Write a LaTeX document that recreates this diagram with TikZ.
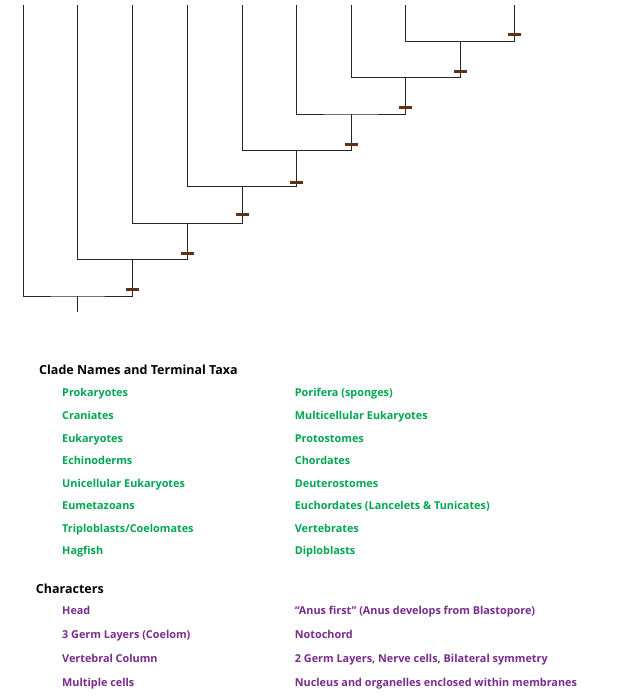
\documentclass[tikz,border=0pt]{standalone}
\usepackage{fontspec}
\setmainfont{Open Sans}
\definecolor{cladegreen}{RGB}{0,166,81}
\definecolor{charpurple}{RGB}{122,44,142}
\definecolor{tickbrown}{RGB}{92,50,22}
\begin{document}
\begin{tikzpicture}[x=1pt,y=-1pt,
  branch/.style={draw=black!85,line width=1pt},
  tickbar/.style={fill=tickbrown,draw=none,inner sep=0pt,minimum width=13pt,minimum height=3pt,rectangle},
  heading/.style={anchor=base west,inner sep=0pt,font=\bfseries\fontsize{12.5}{15}\selectfont,text=black},
  clade/.style={anchor=base west,inner sep=0pt,font=\bfseries\fontsize{10.85}{13}\selectfont,text=cladegreen},
  charac/.style={anchor=base west,inner sep=0pt,font=\bfseries\fontsize{10.85}{13}\selectfont,text=charpurple}]
\useasboundingbox[fill=white] (0,0) rectangle (624,696);
% leaves (top ends)
\coordinate (t0) at (23.3,5);
\coordinate (t1) at (77.7,5);
\coordinate (t2) at (132.7,5);
\coordinate (t3) at (187.7,5);
\coordinate (t4) at (242.3,5);
\coordinate (t5) at (296.7,5);
\coordinate (t6) at (351.3,5);
\coordinate (t7) at (405.3,5);
\coordinate (t9) at (514.3,5);
% joins
\coordinate (j8) at (460,41.3);
\coordinate (j7) at (405.3,77.3);
\coordinate (j6) at (351.3,114);
\coordinate (j5) at (296.7,150.3);
\coordinate (j4) at (242.3,186.7);
\coordinate (j3) at (187.7,223.3);
\coordinate (j2) at (132.7,259.3);
\coordinate (j1) at (77.7,296);
\coordinate (root) at (77.7,311.7);
% branches
\draw[branch] (t7) |- (j8) -| (t9);
\draw[branch] (t6) |- (j7) -| (j8);
\draw[branch] (t5) |- (j6) -| (j7);
\draw[branch] (t4) |- (j5) -| (j6);
\draw[branch] (t3) |- (j4) -| (j5);
\draw[branch] (t2) |- (j3) -| (j4);
\draw[branch] (t1) |- (j2) -| (j3);
\draw[branch] (t0) |- (j1) -| (j2);
\draw[branch] (j1) -- (root);
% character ticks
\node[tickbar] (k8) at (514.3,34.3) {};
\node[tickbar] (k7) at (460,71.3) {};
\node[tickbar] (k6) at (405.3,107.7) {};
\node[tickbar] (k5) at (351.3,144.7) {};
\node[tickbar] (k4) at (296.7,182.3) {};
\node[tickbar] (k3) at (242.3,214.3) {};
\node[tickbar] (k2) at (187.7,253.3) {};
\node[tickbar] (k1) at (132.7,289.7) {};
% headings
\node[heading] (h1) at (39,374.5) {Clade Names and Terminal Taxa};
\node[heading] (h2) at (35.7,593.3) {Characters};
% clade names, left column
\node[clade] (c1) at (62,396.7) {Prokaryotes};
\node[clade] (c2) at (62,419.3) {Craniates};
\node[clade] (c3) at (62,442) {Eukaryotes};
\node[clade] (c4) at (62,464.3) {Echinoderms};
\node[clade] (c5) at (62,487.3) {Unicellular Eukaryotes};
\node[clade] (c6) at (62,509.7) {Eumetazoans};
\node[clade] (c7) at (62,532.3) {Triploblasts/Coelomates};
\node[clade] (c8) at (62,554.7) {Hagfish};
% clade names, right column
\node[clade] (d1) at (294.7,396.7) {Porifera (sponges)};
\node[clade] (d2) at (294.7,419.3) {Multicellular Eukaryotes};
\node[clade] (d3) at (294.7,442) {Protostomes};
\node[clade] (d4) at (294.7,464.3) {Chordates};
\node[clade] (d5) at (294.7,487.3) {Deuterostomes};
\node[clade] (d6) at (294.7,509.7) {Euchordates (Lancelets \&\ Tunicates)};
\node[clade] (d7) at (294.7,532.3) {Vertebrates};
\node[clade] (d8) at (294.7,554.7) {Diploblasts};
% characters
\node[charac] (e1) at (62,614) {Head};
\node[charac] (e2) at (62,638) {3 Germ Layers (Coelom)};
\node[charac] (e3) at (62,662.7) {Vertebral Column};
\node[charac] (e4) at (62,686.7) {Multiple cells};
\node[charac] (f1) at (294.7,614) {“Anus first” (Anus develops from Blastopore)};
\node[charac] (f2) at (294.7,638) {Notochord};
\node[charac] (f3) at (294.7,662.3) {2 Germ Layers, Nerve cells, Bilateral symmetry};
\node[charac] (f4) at (294.7,686.3) {Nucleus and organelles enclosed within membranes};
\end{tikzpicture}
\end{document}
